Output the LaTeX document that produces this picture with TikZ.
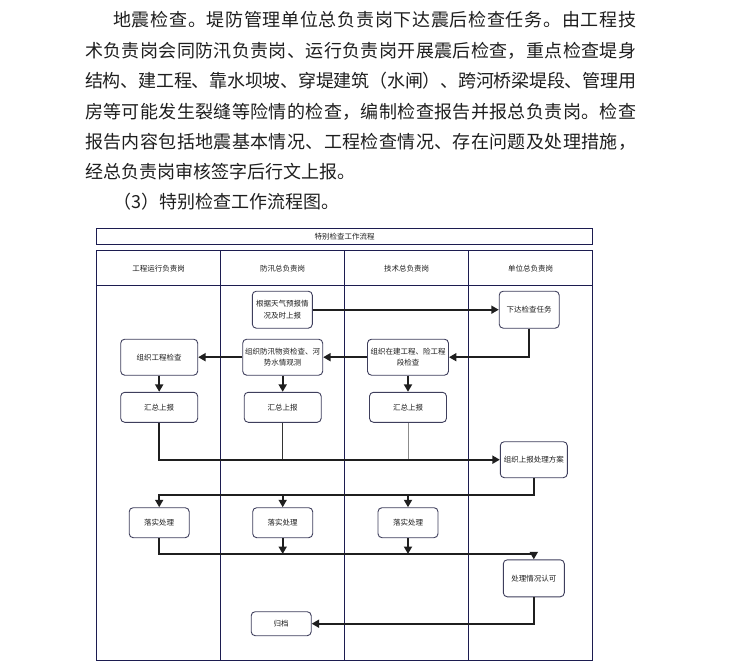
\documentclass[tikz,border=0pt]{standalone}
\usepackage{fontspec}
\newfontfamily\cjk{Noto Sans CJK SC}
\usetikzlibrary{arrows.meta}
\definecolor{tablec}{RGB}{28,28,80}
\definecolor{boxc}{RGB}{62,62,92}
\definecolor{txtc}{RGB}{30,30,30}
\definecolor{thinc}{RGB}{140,140,140}
\def\spreadit#1{\spreadA#1\relax}
\def\spreadA#1{#1\spreadB}
\def\spreadB#1{\ifx\relax#1\else\hskip 0pt plus 1fil minus 0.6pt#1\expandafter\spreadB\fi}
\begin{document}
\begin{tikzpicture}[x=1pt,y=-1pt,
  para/.style={anchor=west, inner sep=0pt, text=txtc, font=\cjk\fontsize{18}{18}\selectfont},
  hdr/.style={inner sep=0pt, text=txtc, font=\cjk\fontsize{7.5}{9}\selectfont},
  box/.style={draw=boxc, line width=0.9pt, rounded corners=4pt, fill=white, align=center,
    inner sep=1pt, text=txtc, font=\cjk\fontsize{7.5}{11.5}\selectfont},
  tbl/.style={draw=tablec, line width=1pt},
  flow/.style={draw=black!88, line width=2.2pt, -{Triangle[length=7.5pt,width=8pt]}},
  thickline/.style={draw=black!88, line width=2.2pt},
]
\useasboundingbox (0,0) rectangle (731,671);
% paragraph
\node[para] (p1) at (113,20) {\hbox to 523pt{\spreadit{地震检查。堤防管理单位总负责岗下达震后检查任务。由工程技}}};
\node[para] (p2) at (85,50.5) {\hbox to 551pt{\spreadit{术负责岗会同防汛负责岗、运行负责岗开展震后检查，重点检查堤身}}};
\node[para] (p3) at (85,81) {\hbox to 551pt{\spreadit{结构、建工程、靠水坝坡、穿堤建筑（水闸）、跨河桥梁堤段、管理用}}};
\node[para] (p4) at (85,111.5) {\hbox to 551pt{\spreadit{房等可能发生裂缝等险情的检查，编制检查报告并报总负责岗。检查}}};
\node[para] (p5) at (85,142) {\hbox to 551pt{\spreadit{报告内容包括地震基本情况、工程检查情况、存在问题及处理措施，}}};
\node[para] (p6) at (85,171.5) {经总负责岗审核签字后行文上报。};
\node[para] (p7) at (113,201.8) {（3）特别检查工作流程图。};
% title box and table
\draw[tbl] (96.7,228.3) rectangle (592.7,245);
\node[hdr] (title) at (344.7,236.6) {特别检查工作流程};
\draw[tbl] (96.7,251) rectangle (592.7,660.7);
\draw[tbl] (96.7,285.7) -- (592.7,285.7);
\foreach \x in {220.7,344.7,468.7} \draw[tbl] (\x,251) -- (\x,660.7);
\node[hdr] (hd1) at (158.7,268.3) {工程运行负责岗};
\node[hdr] (hd2) at (282.7,268.3) {防汛总负责岗};
\node[hdr] (hd3) at (406.7,268.3) {技术总负责岗};
\node[hdr] (hd4) at (530.7,268.3) {单位总负责岗};
% nodes
\node[box, minimum width=60pt, minimum height=37pt] (rep) at (282.3,309.7) {根据天气预报情\\况及时上报};
\node[box, minimum width=60pt, minimum height=37pt] (task) at (529.2,309.7) {下达检查任务};
\node[box, minimum width=77pt, minimum height=36pt] (c1) at (159.2,357.2) {组织工程检查};
\node[box, minimum width=80pt, minimum height=36pt] (c2) at (282.7,357.2) {组织防汛物资检查、河\\势水情观测};
\node[box, minimum width=81pt, minimum height=36pt] (c3) at (408,357.2) {组织在建工程、险工程\\段检查};
\node[box, minimum width=77pt, minimum height=30pt] (h1) at (159.2,407.3) {汇总上报};
\node[box, minimum width=77pt, minimum height=30pt] (h2) at (282.7,407.3) {汇总上报};
\node[box, minimum width=77pt, minimum height=30pt] (h3) at (408,407.3) {汇总上报};
\node[box, minimum width=67pt, minimum height=36pt] (plan) at (533.8,459.7) {组织上报处理方案};
\node[box, minimum width=60pt, minimum height=30pt] (d1) at (159.2,522.7) {落实处理};
\node[box, minimum width=60pt, minimum height=30pt] (d2) at (282.7,522.7) {落实处理};
\node[box, minimum width=60pt, minimum height=30pt] (d3) at (408,522.7) {落实处理};
\node[box, minimum width=61pt, minimum height=37pt] (ok) at (533.8,578.3) {处理情况认可};
\node[box, minimum width=60pt, minimum height=24pt] (arch) at (281.2,623.7) {归档};
\coordinate (busA) at (0,495);
\coordinate (busB) at (0,554);
% connectors
\draw[flow] (rep.east) -- (task.west);
\draw[flow] (task.south) |- (c3.east);
\draw[flow] (c3.west) -- (c2.east);
\draw[flow] (c2.west) -- (c1.east);
\draw[flow] (c1.south) -- (h1.north);
\draw[flow] (c2.south) -- (h2.north);
\draw[flow] (c3.south) -- (h3.north);
\draw[draw=black!80, line width=0.9pt] (h2.south) -- (h2.south |- plan.west);
\draw[draw=thinc, line width=0.9pt] (h3.south) -- (h3.south |- plan.west);
\draw[flow] (h1.south) |- (plan.west);
\draw[flow] (plan.south) |- (d1.north |- busA) -- (d1.north);
\draw[flow] (d2.north |- busA) -- (d2.north);
\draw[flow] (d3.north |- busA) -- (d3.north);
\draw[flow] (d1.south) |- (ok.north |- busB) -- (ok.north);
\draw[flow] (d2.south) -- (d2.south |- busB);
\draw[flow] (d3.south) -- (d3.south |- busB);
\draw[flow] (ok.south) |- (arch.east);
\end{tikzpicture}
\end{document}
